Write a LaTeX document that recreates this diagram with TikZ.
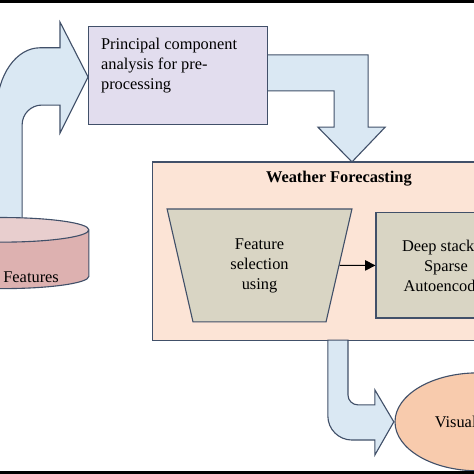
\documentclass[tikz,border=0pt]{standalone}
\usepackage{fontspec}
\setmainfont{Liberation Serif}
\usetikzlibrary{arrows.meta,shapes.geometric}
\definecolor{WfSlate}{RGB}{65,80,105}
\definecolor{WfSky}{RGB}{218,232,243}
\definecolor{WfLavender}{RGB}{226,221,238}
\definecolor{WfPeach}{RGB}{252,228,214}
\definecolor{WfKhaki}{RGB}{217,213,196}
\definecolor{WfSalmon}{RGB}{248,203,173}
\definecolor{WfRose}{RGB}{221,177,176}
\definecolor{WfRoseLight}{RGB}{232,206,206}
\newcommand\wffont{\fontsize{11.8}{14.4}\selectfont}
\tikzset{
  wf/panel/.style={
    draw=WfSlate,
    thick,
    fill=WfPeach,
    minimum width=9.42cm,
    minimum height=4.51cm
  },
  wf/pcabox/.style={
    draw=WfSlate,
    thick,
    fill=WfLavender,
    align=left,
    inner xsep=0.3cm,
    inner ysep=0.28cm,
    minimum width=4.53cm,
    minimum height=2.48cm,
    font=\wffont
  },
  wf/stagebox/.style={
    draw=WfSlate,
    thick,
    fill=WfKhaki,
    align=center,
    font=\wffont
  },
  wf/funnel/.style={
    trapezium,
    shape border rotate=180,
    trapezium angle=67.8,
    trapezium stretches body,
    draw=WfSlate,
    thick,
    fill=WfKhaki,
    align=center,
    minimum width=4.68cm,
    minimum height=2.86cm,
    font=\wffont
  },
  wf/db/.style={
    cylinder,
    shape border rotate=90,
    aspect=0.2,
    draw=WfSlate,
    thick,
    cylinder uses custom fill,
    cylinder body fill=WfRose,
    cylinder end fill=WfRoseLight,
    minimum width=4.4cm,
    minimum height=1.8cm,
    font=\wffont
  },
  wf/result/.style={
    ellipse,
    draw=WfSlate,
    thick,
    fill=WfSalmon,
    minimum width=4.2cm,
    minimum height=2.48cm,
    font=\wffont
  },
  wf/blockarrow/.style={draw=WfSlate, thick, fill=WfSky, line join=miter},
  wf/arrow/.style={-{Triangle[length=2.6mm,width=2.6mm]}, thick, draw=black},
  wf/title/.style={font=\wffont\bfseries, text=black}
}

\begin{document}
\begin{tikzpicture}[x=1cm,y=1cm]
  \useasboundingbox (0,0) rectangle (12,12);
  \clip (0,0) rectangle (12,12);
  \fill[white] (0,0) rectangle (12,12);

  % forecasting panel
  \node[wf/panel] (panel) at (8.58,5.645) {};
  \node[wf/title,anchor=base] (paneltitle) at (8.58,7.37) {Weather Forecasting};

  % block arrows
  \draw[wf/blockarrow] (0.56,6.28) -- (0.56,8.84) arc[start angle=180,end angle=90,radius=0.5]
    -- (1.52,9.34) -- (1.52,8.63) -- (2.23,10.05) -- (1.52,11.44) -- (1.52,10.79) -- (1.01,10.79)
    arc[start angle=90,end angle=180,x radius=1.09,y radius=1.57] -- (-0.08,6.28) -- cycle;
  \draw[wf/blockarrow] (6.76,10.61) -- (9.32,10.61) -- (9.32,8.78) -- (9.75,8.78) -- (8.91,7.90)
    -- (8.05,8.78) -- (8.46,8.78) -- (8.46,9.70) -- (6.76,9.70) -- cycle;
  \draw[wf/blockarrow] (8.30,3.39) -- (8.81,3.39) -- (8.81,2.00) arc[start angle=180,end angle=270,radius=0.25]
    -- (9.49,1.75) -- (9.49,2.13) -- (9.97,1.32) -- (9.49,0.48) -- (9.49,0.86) -- (8.91,0.86)
    arc[start angle=270,end angle=180,radius=0.61] -- cycle;

  % stages
  \node[wf/pcabox,anchor=north west] (pca) at (2.23,11.34)
    {\parbox[c][1.9cm][t]{3.9cm}{Principal component\\analysis for pre-\\processing}};
  \node[wf/db] (features) at (0.05,5.38) {\raisebox{-0.53cm}[0pt][0pt]{Weather Features}};
  \node[wf/funnel] (select) at (6.57,5.28) {Feature\\selection\\using};
  \node[wf/stagebox,minimum width=3.54cm,minimum height=2.66cm] (dssae) at (11.29,5.28)
    {Deep stacked\\Sparse\\Autoencoder};
  \node[wf/result] (visual) at (12.10,1.32) {Visualization};
  \draw[wf/arrow] (select) -- (dssae);

  \fill[black] (0,11.92) rectangle (12,12);
  \fill[black] (0,0) rectangle (12,0.08);
\end{tikzpicture}
\end{document}
